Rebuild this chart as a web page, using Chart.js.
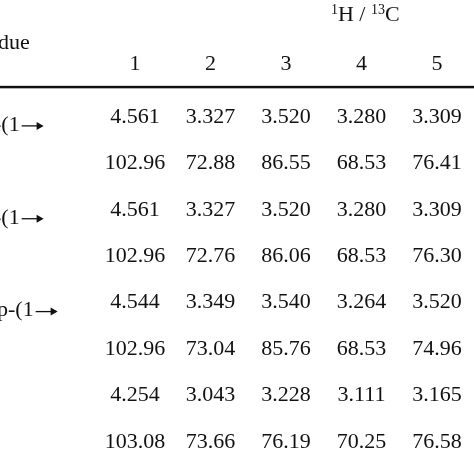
<!DOCTYPE html>
<html><head><meta charset="utf-8">
<script src="https://cdn.jsdelivr.net/npm/chart.js@4"></script>
<style>html,body{margin:0;padding:0;background:#fff}#wrap{width:474px;height:474px}</style>
</head><body><div id="wrap"><canvas id="c"></canvas></div>
<script>
// table data
const columns = ['1', '2', '3', '4', '5'];
const rowLabels = ['-(1', '', '-(1', '', 'p-(1', '', '', ''];
const row1 = ['4.561', '3.327', '3.520', '3.280', '3.309'];
const row2 = ['102.96', '72.88', '86.55', '68.53', '76.41'];
const row3 = ['4.561', '3.327', '3.520', '3.280', '3.309'];
const row4 = ['102.96', '72.76', '86.06', '68.53', '76.30'];
const row5 = ['4.544', '3.349', '3.540', '3.264', '3.520'];
const row6 = ['102.96', '73.04', '85.76', '68.53', '74.96'];
const row7 = ['4.254', '3.043', '3.228', '3.111', '3.165'];
const row8 = ['103.08', '73.66', '76.19', '70.25', '76.58'];
const rows = [row1, row2, row3, row4, row5, row6, row7, row8];

const FONT = '22px "Liberation Serif", "Times New Roman", serif';
const SUP = '14px "Liberation Serif", serif';

const points = [];
rows.forEach((r, i) => r.forEach((v, j) => points.push({x: j + 1, y: i, t: v})));

const tablePlugin = {
  id: 'table',
  afterDatasetsDraw(chart) {
    const {ctx, scales: {x, y}} = chart;
    ctx.save();
    ctx.fillStyle = '#111';
    ctx.strokeStyle = '#111';
    ctx.font = FONT;
    ctx.textBaseline = 'middle';
    ctx.textAlign = 'center';
    points.forEach(p => ctx.fillText(p.t, x.getPixelForValue(p.x), y.getPixelForValue(p.y)));
    columns.forEach((c, j) => ctx.fillText(c, x.getPixelForValue(j + 1), y.getPixelForValue(-1.14)));
    ctx.textAlign = 'left';
    ctx.fillText('due', -2, y.getPixelForValue(-1.59));
    rowLabels.forEach((l, i) => {
      if (!l) return;
      const ly = y.getPixelForValue(i + 0.17);
      const lx = l[0] === 'p' ? -3 : -6;
      ctx.fillText(l, lx, ly);
      // long arrow
      const ax = lx + ctx.measureText(l).width + 2;
      ctx.lineWidth = 1.3;
      ctx.beginPath(); ctx.moveTo(ax, ly + 1); ctx.lineTo(ax + 20, ly + 1); ctx.stroke();
      ctx.beginPath(); ctx.moveTo(ax + 22, ly + 1); ctx.lineTo(ax + 15, ly - 3); ctx.lineTo(ax + 15, ly + 5); ctx.closePath(); ctx.fill();
    });
    // header 1H / 13C
    const parts = [['1', true], ['H / ', false], ['13', true], ['C', false]];
    let w = 0;
    parts.forEach(([s, sup]) => { ctx.font = sup ? SUP : FONT; w += ctx.measureText(s).width; });
    let px = x.getPixelForValue(4.05) - w / 2;
    const hy = y.getPixelForValue(-2.2);
    parts.forEach(([s, sup]) => {
      ctx.font = sup ? SUP : FONT;
      ctx.fillText(s, px, sup ? hy - 5 : hy);
      px += ctx.measureText(s).width;
    });
    // rule
    ctx.fillRect(0, y.getPixelForValue(-0.65) - 1, chart.width, 2.5);
    ctx.restore();
  }
};

new Chart(document.getElementById('c'), {
  type: 'scatter',
  data: {datasets: [{data: points, pointRadius: 0}]},
  plugins: [tablePlugin],
  options: {
    responsive: true,
    maintainAspectRatio: false,
    animation: false,
    layout: {padding: 0},
    plugins: {legend: {display: false}, tooltip: {enabled: false}},
    scales: {
      x: {type: 'linear', display: false, min: -0.788, max: 5.49},
      y: {type: 'linear', display: false, reverse: true, min: -2.52, max: 7.69}
    }
  }
});
</script></body></html>
